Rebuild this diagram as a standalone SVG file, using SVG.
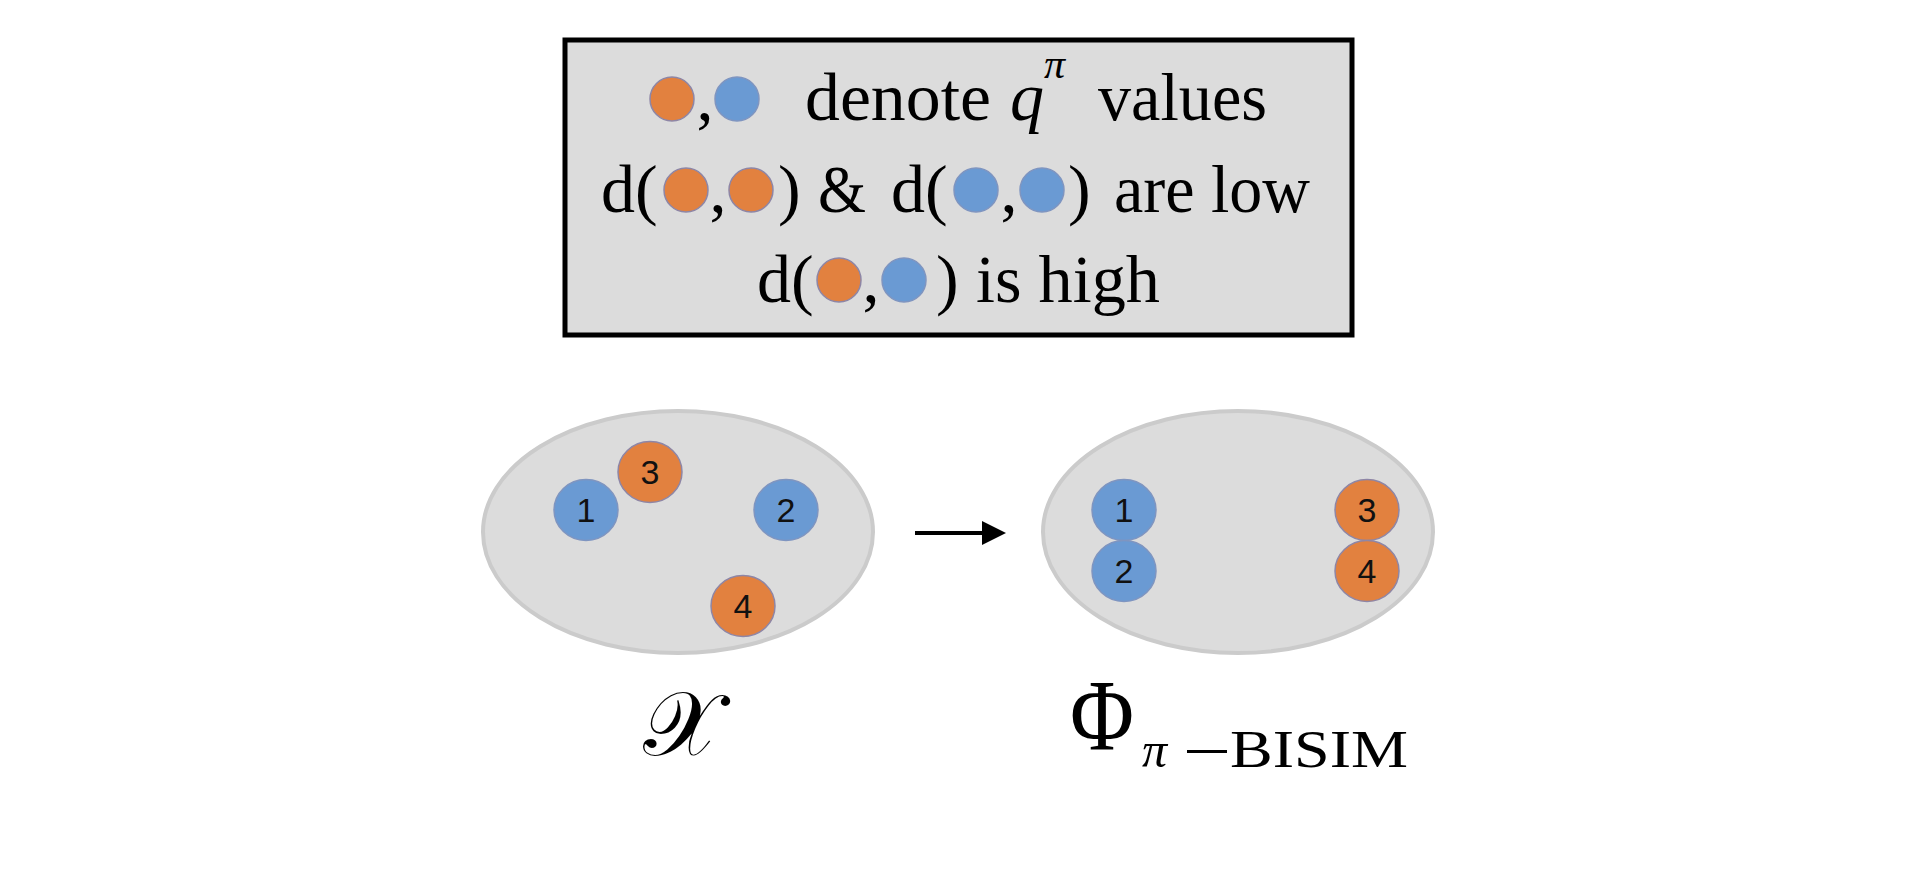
<svg xmlns="http://www.w3.org/2000/svg" width="1924" height="884" viewBox="0 0 1924 884">
<defs>
<style>
.t{font-family:"Liberation Serif","Times New Roman",serif;font-size:68px;fill:#000}
.it{font-style:italic}
.o{fill:#E2813F;stroke:#8E86A6;stroke-width:1.5}
.b{fill:#6A9AD3;stroke:#7F95C0;stroke-width:1.5}
.n{font-family:"Liberation Sans",Arial,sans-serif;font-size:34px;fill:#111;text-anchor:middle}
.set{fill:#dcdcdc;stroke:#cbcbcb;stroke-width:4}
</style>
<marker id="ah" markerWidth="6" markerHeight="6" refX="0" refY="3" orient="auto" markerUnits="strokeWidth">
<path d="M0,0 L6,3 L0,6 Z" fill="#000"/>
</marker>
</defs>
<rect width="1924" height="884" fill="#fff"/>
<g id="legend">
<rect x="565" y="40" width="787" height="295" fill="#dcdcdc" stroke="#000" stroke-width="5"/>
<ellipse class="o" cx="672" cy="99" rx="22" ry="22"/>
<text class="t" x="705" y="120" text-anchor="middle">,</text>
<ellipse class="b" cx="737" cy="99" rx="22" ry="22"/>
<text class="t" x="805" y="120" textLength="186" lengthAdjust="spacingAndGlyphs">denote</text>
<text class="t it" x="1010" y="120">q</text>
<text class="t it" x="1044" y="78" style="font-size:42px">π</text>
<text class="t" x="1098" y="120" textLength="169" lengthAdjust="spacingAndGlyphs">values</text>

<text class="t" x="601" y="212">d(</text>
<ellipse class="o" cx="686" cy="190" rx="22" ry="22"/>
<text class="t" x="718" y="212" text-anchor="middle">,</text>
<ellipse class="o" cx="751" cy="190" rx="22" ry="22"/>
<text class="t" x="778" y="212">)</text>
<text class="t" x="818" y="212" textLength="48" lengthAdjust="spacingAndGlyphs">&amp;</text>
<text class="t" x="891" y="212">d(</text>
<ellipse class="b" cx="976" cy="190" rx="22" ry="22"/>
<text class="t" x="1009" y="212" text-anchor="middle">,</text>
<ellipse class="b" cx="1042" cy="190" rx="22" ry="22"/>
<text class="t" x="1068" y="212">)</text>
<text class="t" x="1114" y="212" textLength="196" lengthAdjust="spacingAndGlyphs">are low</text>

<text class="t" x="757" y="302">d(</text>
<ellipse class="o" cx="839" cy="280" rx="22" ry="22"/>
<text class="t" x="871" y="302" text-anchor="middle">,</text>
<ellipse class="b" cx="904" cy="280" rx="22" ry="22"/>
<text class="t" x="936" y="302">)</text>
<text class="t" x="976" y="302" textLength="184" lengthAdjust="spacingAndGlyphs">is high</text>
</g>

<g id="setX">
<ellipse class="set" cx="678" cy="532" rx="195" ry="121"/>
<g id="x1"><ellipse class="b" cx="586" cy="510" rx="32" ry="30.5"/><text class="n" x="586" y="522">1</text></g>
<g id="x3"><ellipse class="o" cx="650" cy="472" rx="32" ry="30.5"/><text class="n" x="650" y="484">3</text></g>
<g id="x2"><ellipse class="b" cx="786" cy="510" rx="32" ry="30.5"/><text class="n" x="786" y="522">2</text></g>
<g id="x4"><ellipse class="o" cx="743" cy="606" rx="32" ry="30.5"/><text class="n" x="743" y="618">4</text></g>
<text x="681" y="755" text-anchor="middle" style="font-family:'DejaVu Serif','Liberation Serif',serif;font-size:90px">𝒳</text>
</g>

<g id="setPhi">
<ellipse class="set" cx="1238" cy="532" rx="195" ry="121"/>
<g id="p1"><ellipse class="b" cx="1124" cy="510" rx="32" ry="30.5"/><text class="n" x="1124" y="522">1</text></g>
<g id="p2"><ellipse class="b" cx="1124" cy="571" rx="32" ry="30.5"/><text class="n" x="1124" y="583">2</text></g>
<g id="p3"><ellipse class="o" cx="1367" cy="510" rx="32" ry="30.5"/><text class="n" x="1367" y="522">3</text></g>
<g id="p4"><ellipse class="o" cx="1367" cy="571" rx="32" ry="30.5"/><text class="n" x="1367" y="583">4</text></g>
<text class="t" x="1070" y="750" style="font-size:102px" textLength="64" lengthAdjust="spacingAndGlyphs">Φ</text>
<text class="t it" x="1142" y="767" style="font-size:50px">π</text>
<rect x="1187" y="750" width="40" height="3" fill="#000"/>
<text class="t" x="1230" y="767" style="font-size:53px" textLength="178" lengthAdjust="spacingAndGlyphs">BISIM</text>
</g>

<g id="connectors">
<line x1="915" y1="533" x2="982" y2="533" stroke="#000" stroke-width="4" marker-end="url(#ah)"/>
</g>
</svg>
